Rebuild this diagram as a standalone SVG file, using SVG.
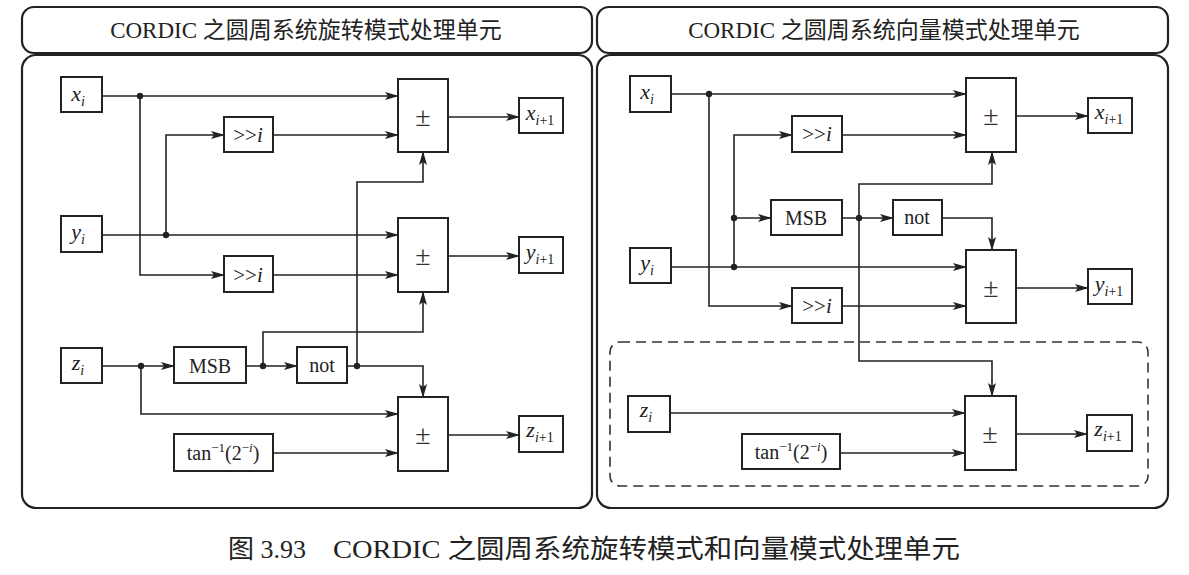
<svg xmlns="http://www.w3.org/2000/svg" width="1189" height="575" viewBox="0 0 1189 575">
<style>
.pan{fill:#fff;stroke:#222;stroke-width:2.2}
.box{fill:#fff;stroke:#222;stroke-width:2}
.w{fill:none;stroke:#222;stroke-width:1.6}
.dash{fill:none;stroke:#333;stroke-width:1.6;stroke-dasharray:10 6}
.t{font-family:"Liberation Serif","Noto Sans CJK SC",serif;fill:#222;text-anchor:middle}
.it{font-style:italic}
.pm{font-family:"Liberation Serif",serif;font-size:28px;fill:#333;text-anchor:middle}
.hd{font-family:"Liberation Serif","Noto Sans CJK SC",serif;font-size:23px;fill:#222;text-anchor:middle}
.cap{font-family:"Liberation Serif","Noto Sans CJK SC",serif;font-size:26px;fill:#222}
</style>
<defs>
<marker id="a" markerWidth="14" markerHeight="8" refX="13" refY="4" orient="auto" markerUnits="userSpaceOnUse">
<path d="M0,0 L14,4 L0,8 L3,4 Z" fill="#222"/>
</marker>
</defs>
<rect width="1189" height="575" fill="#fff"/>
<g id="panels">
<rect class="pan" x="22" y="7" width="570" height="46" rx="12"/>
<rect class="pan" x="22" y="55" width="570" height="453" rx="14"/>
<rect class="pan" x="597" y="7" width="571" height="46" rx="12"/>
<rect class="pan" x="597" y="55" width="571" height="453" rx="14"/>
<rect class="dash" x="610" y="342" width="538" height="144" rx="10"/>
<text class="hd" x="306" y="38">CORDIC 之圆周系统旋转模式处理单元</text>
<text class="hd" x="884" y="38">CORDIC 之圆周系统向量模式处理单元</text>
</g>
<g id="connectors">
<!-- left -->
<path class="w" d="M102,96 H398" marker-end="url(#a)"/>
<path class="w" d="M140,96 V275 H224" marker-end="url(#a)"/>
<path class="w" d="M102,235 H398" marker-end="url(#a)"/>
<path class="w" d="M166,235 V135 H224" marker-end="url(#a)"/>
<path class="w" d="M273,135 H398" marker-end="url(#a)"/>
<path class="w" d="M273,275 H398" marker-end="url(#a)"/>
<path class="w" d="M448,117 H519" marker-end="url(#a)"/>
<path class="w" d="M448,256 H519" marker-end="url(#a)"/>
<path class="w" d="M102,366 H174" marker-end="url(#a)"/>
<path class="w" d="M141,366 V414 H398" marker-end="url(#a)"/>
<path class="w" d="M246,366 H297" marker-end="url(#a)"/>
<path class="w" d="M263,366 V332 H423 V292" marker-end="url(#a)"/>
<path class="w" d="M347,366 H423 V397" marker-end="url(#a)"/>
<path class="w" d="M357,366 V182 H423 V152" marker-end="url(#a)"/>
<path class="w" d="M273,453 H398" marker-end="url(#a)"/>
<path class="w" d="M448,435 H519" marker-end="url(#a)"/>
<!-- right -->
<path class="w" d="M671,94 H966" marker-end="url(#a)"/>
<path class="w" d="M709,94 V306 H792" marker-end="url(#a)"/>
<path class="w" d="M671,267 H966" marker-end="url(#a)"/>
<path class="w" d="M734,267 V135 H792" marker-end="url(#a)"/>
<path class="w" d="M734,218 H771" marker-end="url(#a)"/>
<path class="w" d="M842,135 H966" marker-end="url(#a)"/>
<path class="w" d="M842,306 H966" marker-end="url(#a)"/>
<path class="w" d="M842,218 H893" marker-end="url(#a)"/>
<path class="w" d="M859,218 V184 H992 V152" marker-end="url(#a)"/>
<path class="w" d="M859,218 V361 H992 V396" marker-end="url(#a)"/>
<path class="w" d="M942,218 H992 V250" marker-end="url(#a)"/>
<path class="w" d="M1016,116 H1088" marker-end="url(#a)"/>
<path class="w" d="M1016,288 H1088" marker-end="url(#a)"/>
<path class="w" d="M670,413 H965" marker-end="url(#a)"/>
<path class="w" d="M840,453 H965" marker-end="url(#a)"/>
<path class="w" d="M1016,434 H1087" marker-end="url(#a)"/>
<!-- junctions -->
<g fill="#222">
<circle cx="140" cy="96" r="3.2"/><circle cx="166" cy="235" r="3.2"/>
<circle cx="141" cy="366" r="3.2"/><circle cx="263" cy="366" r="3.2"/><circle cx="357" cy="366" r="3.2"/>
<circle cx="709" cy="94" r="3.2"/><circle cx="734" cy="267" r="3.2"/><circle cx="734" cy="218" r="3.2"/>
<circle cx="859" cy="218" r="3.2"/>
</g>
</g>
<!-- left nodes -->
<g id="L_xi"><rect class="box" x="61" y="77" width="41" height="35"/><text class="t it" x="78" y="101" font-size="22">x<tspan font-size="14" dy="5">i</tspan></text></g>
<g id="L_yi"><rect class="box" x="61" y="216" width="41" height="36"/><text class="t it" x="78" y="239" font-size="22">y<tspan font-size="14" dy="5">i</tspan></text></g>
<g id="L_zi"><rect class="box" x="61" y="348" width="41" height="35"/><text class="t it" x="78" y="370" font-size="22">z<tspan font-size="14" dy="5">i</tspan></text></g>
<g id="L_sh1"><rect class="box" x="224" y="117" width="49" height="35"/><text class="t" x="248" y="142" font-size="21">&gt;&gt;<tspan class="it">i</tspan></text></g>
<g id="L_sh2"><rect class="box" x="224" y="256" width="49" height="36"/><text class="t" x="248" y="282" font-size="21">&gt;&gt;<tspan class="it">i</tspan></text></g>
<g id="L_msb"><rect class="box" x="174" y="347" width="72" height="36"/><text class="t" x="210" y="373" font-size="20">MSB</text></g>
<g id="L_not"><rect class="box" x="297" y="347" width="50" height="36"/><text class="t" x="322" y="372" font-size="20">not</text></g>
<g id="L_tan"><rect class="box" x="174" y="434" width="99" height="37"/><text class="t" x="223" y="460" font-size="20">tan<tspan font-size="13" dy="-8">−1</tspan><tspan dy="8">(2</tspan><tspan font-size="13" dy="-8">−<tspan class="it">i</tspan></tspan><tspan dy="8">)</tspan></text></g>
<g id="L_pm1"><rect class="box" x="398" y="79" width="50" height="73"/><text class="pm" x="423" y="126">±</text></g>
<g id="L_pm2"><rect class="box" x="398" y="218" width="50" height="74"/><text class="pm" x="423" y="265">±</text></g>
<g id="L_pm3"><rect class="box" x="398" y="397" width="50" height="74"/><text class="pm" x="423" y="444">±</text></g>
<g id="L_xo"><rect class="box" x="519" y="98" width="44" height="35"/><text class="t it" x="540" y="120" font-size="22">x<tspan font-size="14" dy="5">i</tspan><tspan font-size="14" font-style="normal">+1</tspan></text></g>
<g id="L_yo"><rect class="box" x="519" y="237" width="44" height="36"/><text class="t it" x="540" y="259" font-size="22">y<tspan font-size="14" dy="5">i</tspan><tspan font-size="14" font-style="normal">+1</tspan></text></g>
<g id="L_zo"><rect class="box" x="519" y="416" width="44" height="36"/><text class="t it" x="540" y="437" font-size="22">z<tspan font-size="14" dy="5">i</tspan><tspan font-size="14" font-style="normal">+1</tspan></text></g>
<!-- right nodes -->
<g id="R_xi"><rect class="box" x="630" y="76" width="41" height="36"/><text class="t it" x="647" y="99" font-size="22">x<tspan font-size="14" dy="5">i</tspan></text></g>
<g id="R_yi"><rect class="box" x="630" y="248" width="41" height="35"/><text class="t it" x="647" y="270" font-size="22">y<tspan font-size="14" dy="5">i</tspan></text></g>
<g id="R_zi"><rect class="box" x="628" y="396" width="42" height="36"/><text class="t it" x="646" y="417" font-size="22">z<tspan font-size="14" dy="5">i</tspan></text></g>
<g id="R_sh1"><rect class="box" x="792" y="116" width="50" height="36"/><text class="t" x="817" y="141" font-size="21">&gt;&gt;<tspan class="it">i</tspan></text></g>
<g id="R_sh2"><rect class="box" x="792" y="288" width="50" height="35"/><text class="t" x="817" y="313" font-size="21">&gt;&gt;<tspan class="it">i</tspan></text></g>
<g id="R_msb"><rect class="box" x="771" y="200" width="71" height="35"/><text class="t" x="806" y="225" font-size="20">MSB</text></g>
<g id="R_not"><rect class="box" x="893" y="200" width="49" height="35"/><text class="t" x="917" y="224" font-size="20">not</text></g>
<g id="R_tan"><rect class="box" x="742" y="434" width="98" height="35"/><text class="t" x="791" y="459" font-size="20">tan<tspan font-size="13" dy="-8">−1</tspan><tspan dy="8">(2</tspan><tspan font-size="13" dy="-8">−<tspan class="it">i</tspan></tspan><tspan dy="8">)</tspan></text></g>
<g id="R_pm1"><rect class="box" x="966" y="78" width="50" height="74"/><text class="pm" x="991" y="125">±</text></g>
<g id="R_pm2"><rect class="box" x="966" y="250" width="50" height="73"/><text class="pm" x="991" y="297">±</text></g>
<g id="R_pm3"><rect class="box" x="965" y="396" width="51" height="74"/><text class="pm" x="990" y="443">±</text></g>
<g id="R_xo"><rect class="box" x="1088" y="98" width="44" height="35"/><text class="t it" x="1109" y="119" font-size="22">x<tspan font-size="14" dy="5">i</tspan><tspan font-size="14" font-style="normal">+1</tspan></text></g>
<g id="R_yo"><rect class="box" x="1088" y="269" width="44" height="35"/><text class="t it" x="1109" y="291" font-size="22">y<tspan font-size="14" dy="5">i</tspan><tspan font-size="14" font-style="normal">+1</tspan></text></g>
<g id="R_zo"><rect class="box" x="1087" y="415" width="45" height="36"/><text class="t it" x="1108" y="436" font-size="22">z<tspan font-size="14" dy="5">i</tspan><tspan font-size="14" font-style="normal">+1</tspan></text></g>
<g id="caption">
<text class="cap" x="228" y="558">图 3.93</text>
<text class="cap" x="333" y="558" textLength="627" lengthAdjust="spacingAndGlyphs">CORDIC 之圆周系统旋转模式和向量模式处理单元</text>
</g>
</svg>
